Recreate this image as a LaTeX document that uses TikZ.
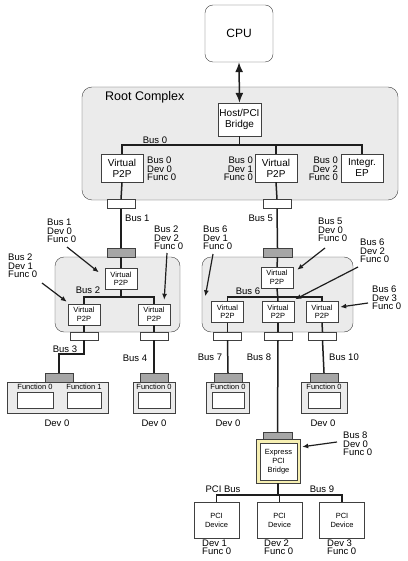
\documentclass[tikz,border=0pt]{standalone}
\usepackage{fontspec}
\setmainfont{Liberation Sans}
\usepackage{tikz}
\usetikzlibrary{calc,arrows,arrows.meta,positioning}

\definecolor{linecol}{HTML}{404040}
\definecolor{buscol}{HTML}{1E1E1E}
\definecolor{groupfill}{HTML}{EBEBEB}
\definecolor{portfill}{HTML}{A6A6A6}
\definecolor{bridgefill}{HTML}{F6EFB2}

\newcommand{\fs}[2]{\fontsize{#1}{#2}\selectfont}

\begin{document}
\begin{tikzpicture}
  [>=latex, x=1pt, y=-1pt]

\useasboundingbox (0,0) rectangle (407,561);

% define styles
\tikzstyle{box} = [draw=linecol, fill=white, inner sep=0pt, align=center];
\tikzstyle{group} = [draw=linecol, fill=groupfill, inner sep=0pt];
\tikzstyle{port} = [draw=linecol, fill=white, inner sep=0pt, minimum width=28pt, minimum height=9pt];
\tikzstyle{gport} = [port, fill=portfill];
\tikzstyle{bus} = [draw=buscol, line width=1.5pt];
\tikzstyle{lbl} = [inner sep=0pt, font=\fs{9.5}{8.5}];
\tikzstyle{note} = [inner sep=0pt, align=left, anchor=north west, font=\fs{9.5}{8.5}];
\tikzstyle{ann} = [draw=buscol, line width=1.2pt, -{Latex[length=6pt,width=5pt]}];

% define new commands
\newcommand{\ptp}[3]{
  \node[box, minimum width=32pt, minimum height=21pt, font=\fs{7.5}{8.5}] (#1) at (#2,#3) {Virtual\\P2P};
}

\newcommand{\annArrow}[4]{
  \draw [ann] ($(#1.north west)+(#2)$) -- ($(#3)+(#4)$);
}

% draw cpu and root complex
\node[box, rounded corners=8pt, minimum width=68pt, minimum height=57pt, font=\fs{12}{14}] (cpu) at (239,33.5) {CPU};
\node[group, rounded corners=10pt, minimum width=316pt, minimum height=113pt] (rc) at (240,143.5) {};
\node[inner sep=0pt, anchor=west, font=\fs{12.5}{14}] (rclbl) at (105,97) {Root Complex};
\node[box, minimum width=43pt, minimum height=33pt, font=\fs{10}{11}] (host) at (239.5,119.5) {Host/PCI\\Bridge};

\foreach \name/\x/\txt in {rcA/122/Virtual\\P2P, rcB/276/Virtual\\P2P, ep/362/Integr.\\EP}
  \node[box, minimum width=42pt, minimum height=28pt, font=\fs{10}{11}] (\name) at (\x,168) {\txt};

\node[port] (pA) at (121,204) {};
\node[port] (pB) at (277,204) {};

\node[note] (n0) at (147,157) {Bus 0\\Dev 0\\Func 0};
\node[note, anchor=north east, align=right] (n1) at (253,157) {Bus 0\\Dev 1\\Func 0};
\node[note, anchor=north east, align=right] (n2) at (338,157) {Bus 0\\Dev 2\\Func 0};

\draw [bus, <->, >={Latex[length=10pt,width=8pt]}] (cpu.south) -- (host.north);

% bus 0
\coordinate (b0) at (0,145);
\draw [bus] (host.south) -- (host.south |- b0);
\draw [bus] (rcA.north) -- (rcA.north |- b0) -- (ep.north |- b0) -- (ep.north);
\draw [bus] (rcB.north) -- (rcB.north |- b0);
\draw [bus] (rcA.south) -- (pA.north);
\draw [bus] (rcB.south) -- (pB.north);
\node[lbl] at (155,140) {Bus 0};

% left switch
\node[group, rounded corners=9pt, minimum width=125pt, minimum height=75pt] (swA) at (117.5,294.5) {};
\node[gport] (gA) at (121,252.5) {};
\ptp{sAa}{121}{279}
\ptp{sAb}{84}{314.5}
\ptp{sAc}{154}{314.5}
\node[port, minimum height=8pt] (pAb) at (84,336) {};
\node[port, minimum height=8pt] (pAc) at (154,336) {};

\coordinate (b2) at (0,297);
\draw [bus] (pA.south) -- (gA.north);
\draw [bus] (gA.south) -- (sAa.north);
\draw [bus] (sAa.south) -- (sAa.south |- b2);
\draw [bus] (sAb.north) -- (sAb.north |- b2) -- (sAc.north |- b2) -- (sAc.north);
\draw [bus] (sAb.south) -- (pAb.north);
\draw [bus] (sAc.south) -- (pAc.north);

\node[lbl, anchor=west] at (125,218) {Bus 1};
\node[lbl] at (88,290.5) {Bus 2};

% right switch
\node[group, rounded corners=9pt, minimum width=151pt, minimum height=75pt] (swB) at (277.5,294.5) {};
\node[gport, minimum width=29pt] (gB) at (277.5,252.5) {};
\ptp{sBa}{277}{277.5}
\ptp{sBb}{227.5}{312}
\ptp{sBc}{278}{312}
\ptp{sBd}{322}{312}
\foreach \name/\x in {pBb/227.5, pBc/278, pBd/322.5}
  \node[port, minimum height=8pt] (\name) at (\x,336) {};

\coordinate (b6) at (0,297);
\draw [bus] (pB.south) -- (gB.north);
\draw [bus] (gB.south) -- (sBa.north);
\draw [bus] (sBa.south) -- (sBc.north);
\draw [bus] (sBb.north) -- (sBb.north |- b6) -- (sBd.north |- b6) -- (sBd.north);
\foreach \s/\p in {sBb/pBb, sBc/pBc, sBd/pBd}
  \draw [bus] (\s.south) -- (\p.north);

\node[lbl, anchor=east] at (273,218) {Bus 5};
\node[lbl] at (248,291) {Bus 6};

% end devices
\node[gport] (gD1) at (59,377.5) {};
\node[group, minimum width=101pt, minimum height=31pt] (dev1) at (57.5,397.5) {};
\node[box, minimum width=36pt, minimum height=16pt] (f0) at (35,400) {};
\node[box, minimum width=34pt, minimum height=16pt] (f1) at (84,400) {};
\node[inner sep=0pt, font=\fs{7.5}{8}] at (35,387) {Function 0};
\node[inner sep=0pt, font=\fs{7.5}{8}] at (84,387) {Function 1};

\foreach \name/\x/\w in {D2/154/42, D3/228/43, D4/324/46}{
  \node[gport] (g\name) at (\x,377.5) {};
  \node[group, minimum width=\w pt, minimum height=31pt] (dev\name) at (\x,397.5) {};
  \node[box, minimum width=32pt, minimum height=16pt] (fn\name) at (\x,400) {};
  \node[inner sep=0pt, font=\fs{7.5}{8}] at (\x,387) {Function 0};
}

\foreach \x in {57,154,228,323}
  \node[lbl] at (\x,423) {Dev 0};

% buses 3, 4, 7, 8, 10
\coordinate (b3) at (0,354);
\draw [bus] (pAb.south) -- (pAb.south |- b3) -- (gD1.north |- b3) -- (gD1.north);
\draw [bus] (pAc.south) -- (gD2.north);
\draw [bus] (pBb.south) -- (gD3.north);
\draw [bus] (pBd.south) -- (gD4.north);

\node[lbl] at (65,349.5) {Bus 3};
\node[lbl] at (135,358) {Bus 4};
\node[lbl] at (210,357) {Bus 7};
\node[lbl] at (259,357) {Bus 8};
\node[lbl] at (344,357) {Bus 10};

% express pci bridge
\node[gport, minimum width=29pt, minimum height=8pt] (gX) at (277.5,436) {};
\node[draw=linecol, fill=bridgefill, minimum size=44pt, inner sep=0pt] (xbo) at (278,461) {};
\node[box, minimum size=37pt, font=\fs{7.5}{9}] (xb) at (278.5,461.5) {Express\\PCI\\Bridge};
\draw [bus] (pBc.south) -- (gX.north);

% pci devices
\foreach \name/\x in {pd1/216.5, pd2/279.5, pd3/342}
  \node[box, minimum width=45pt, minimum height=36pt, font=\fs{7.5}{9}] (\name) at (\x,520) {PCI\\Device};

\coordinate (b9) at (0,495);
\draw [bus] (xbo.south) -- (xbo.south |- b9);
\draw [bus] (pd1.north) -- (pd1.north |- b9) -- (pd3.north |- b9) -- (pd3.north);
\draw [bus] (pd2.north) -- (pd2.north |- b9);

\node[lbl] at (223,489) {PCI Bus};
\node[lbl] at (322,489) {Bus 9};

\node[note] at (202,539.5) {Dev 1\\Func 0};
\node[note] at (264,539.5) {Dev 2\\Func 0};
\node[note] at (327,539.5) {Dev 3\\Func 0};

% annotations
\node[note] (aA) at (47,219) {Bus 1\\Dev 0\\Func 0};
\node[note] (aB) at (154,226) {Bus 2\\Dev 2\\Func 0};
\node[note] (aC) at (8,254) {Bus 2\\Dev 1\\Func 0};
\node[note] (aD) at (203,226) {Bus 6\\Dev 1\\Func 0};
\node[note] (aE) at (318,218) {Bus 5\\Dev 0\\Func 0};
\node[note] (aF) at (360,239) {Bus 6\\Dev 2\\Func 0};
\node[note] (aG) at (372,286) {Bus 6\\Dev 3\\Func 0};
\node[note] (aH) at (343,432) {Bus 8\\Dev 0\\Func 0};

\annArrow{aA}{20,28}{sAa.north west}{-6,4}
\annArrow{aB}{13,27}{sAc.north east}{-6,-4}
\annArrow{aC}{34,29}{sAb.north west}{-1,-2}
\annArrow{aD}{10,28}{sBb.north west}{-6,-5}
\annArrow{aE}{7,30}{sBa.north east}{4,3}
\annArrow{aF}{-2,28}{sBc.north east}{1,-2}
\annArrow{aG}{-4,17}{sBd.east}{2,-5}
\annArrow{aH}{-6,10}{xbo.north east}{2,8}

\end{tikzpicture}
\end{document}
